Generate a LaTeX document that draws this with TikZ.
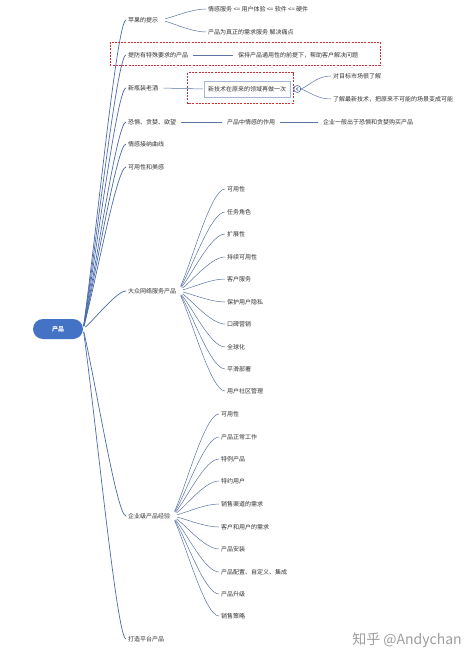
\documentclass[tikz,border=0pt]{standalone}
\usepackage{fontspec}
\setmainfont{Noto Sans CJK SC}
\usetikzlibrary{calc}
\definecolor{rootBlue}{RGB}{68,114,196}
\definecolor{linkBlue}{RGB}{74,106,172}
\definecolor{leafLine}{RGB}{92,116,162}
\definecolor{markRed}{RGB}{204,48,58}
\definecolor{txtGray}{RGB}{51,51,51}
\definecolor{boxLine}{RGB}{168,184,212}

\begin{document}
\begin{tikzpicture}[
    x=1pt, y=-1pt,
    every node/.style={font=\fontsize{6}{7}\selectfont, text=txtGray},
    rootnode/.style={fill=rootBlue, rounded corners=10pt, minimum width=50pt,
                minimum height=20pt, inner sep=0pt,
                font=\fontsize{6}{7}\selectfont\bfseries, text=white},
    topic/.style={anchor=west, inner sep=2pt},
    leaf/.style={anchor=west, inner sep=2pt},
    techbox/.style={draw=boxLine, line width=0.5pt, inner xsep=4pt,
                inner ysep=0pt, minimum height=16pt, fill=white},
    foldmark/.style={circle, draw=linkBlue, line width=0.6pt, fill=white,
                minimum size=7pt, inner sep=0pt},
    mmcurve/.style={to path={.. controls ($(\tikztostart)!0.3!(\tikztotarget)$)
                and ($(\tikztotarget)+(-#1,0)$) .. (\tikztotarget)}},
    mmcurve/.default=8,
    mainlink/.style={draw=linkBlue, line width=0.7pt, mmcurve=9, shorten <=3pt},
    sublink/.style={draw=leafLine, line width=0.5pt, mmcurve=14, shorten <=5pt},
    flatlink/.style={draw=leafLine, line width=0.5pt, shorten <=3pt, shorten >=3pt},
    hlbox/.style={draw=markRed, line width=0.75pt, dash pattern=on 2pt off 1.2pt}
]
  \fill[white] (0,0) rectangle (474,660);
  \useasboundingbox (0,0) rectangle (474,660);

  % --- Root ---
  \node[rootnode] (root) at (58,329) {产品};

  % --- First level topics ---
  \node[topic] (apple)    at (126,20)  {苹果的提示};
  \node[topic] (guard)    at (126,55)  {提防有特殊要求的产品};
  \node[topic] (wine)     at (126,88)  {新瓶装老酒};
  \node[topic] (fear)     at (126,122) {恐惧、贪婪、欲望};
  \node[topic] (accept)   at (126,144) {情感接纳曲线};
  \node[topic] (beauty)   at (126,167) {可用性和美感};
  \node[topic] (mass)     at (126,291) {大众网络服务产品};
  \node[topic] (ent)      at (126,516) {企业级产品经验};
  \node[topic] (platform) at (126,639) {打造平台产品};

  % --- Apple hints ---
  \node[leaf] (appleServe) at (206,9)  {情感服务 <= 用户体验 <= 软件 <= 硬件};
  \node[leaf] (applePain)  at (206,32) {产品为真正的需求服务 解决痛点};

  % --- Special requests, old wine, emotions ---
  \node[leaf] (guardNote) at (236,55) {保持产品通用性的前提下，帮助客户解决问题};
  \node[techbox] (newTech) at (247,89) {新技术在原来的领域再做一次};
  \node[foldmark] (fold) at ($(newTech.east)+(7,0)$) {};
  \draw[linkBlue, line width=0.6pt] ($(fold.center)+(1,-1.6)$) -- ($(fold.center)+(-1,0)$)
        -- ($(fold.center)+(1,1.6)$);
  \node[leaf] (techMarket) at (331,76) {对目标市场很了解};
  \node[leaf] (techNew)    at (331,99) {了解最新技术，把原来不可能的场景变成可能};
  \node[leaf] (emotion)  at (225,122) {产品中情感的作用};
  \node[leaf] (fearNote) at (321,122) {企业一般出于恐惧和贪婪购买产品};

  % --- Mass web service products ---
  \node[leaf] (massUse)       at (225,189) {可用性};
  \node[leaf] (massRole)      at (225,212) {任务角色};
  \node[leaf] (massExt)       at (225,234) {扩展性};
  \node[leaf] (massAvail)     at (225,257) {持续可用性};
  \node[leaf] (massSupport)   at (225,279) {客户服务};
  \node[leaf] (massPrivacy)   at (225,302) {保护用户隐私};
  \node[leaf] (massWord)      at (225,324) {口碑营销};
  \node[leaf] (massGlobal)    at (225,347) {全球化};
  \node[leaf] (massDeploy)    at (225,369) {平滑部署};
  \node[leaf] (massCommunity) at (225,391) {用户社区管理};

  % --- Enterprise products ---
  \node[leaf] (entUse)      at (219,414) {可用性};
  \node[leaf] (entWork)     at (219,437) {产品正常工作};
  \node[leaf] (entSpecial)  at (219,459) {特例产品};
  \node[leaf] (entPartner)  at (219,481) {特约用户};
  \node[leaf] (entChannel)  at (219,504) {销售渠道的需求};
  \node[leaf] (entCustomer) at (219,527) {客户和用户的需求};
  \node[leaf] (entInstall)  at (219,549) {产品安装};
  \node[leaf] (entConfig)   at (219,572) {产品配置、自定义、集成};
  \node[leaf] (entUpgrade)  at (219,594) {产品升级};
  \node[leaf] (entSales)    at (219,616) {销售策略};

  % --- Root links ---
  \foreach \t in {apple,guard,wine,fear,accept,beauty,mass,ent,platform}
    \draw[mainlink] (root.east) to (\t.west);

  % --- Sub links ---
  \draw[sublink] (apple.east) to (appleServe.west);
  \draw[sublink] (apple.east) to (applePain.west);
  \draw[flatlink] (guard.east) -- (guardNote.west);
  \draw[flatlink, shorten >=1pt] (wine.east) -- (newTech.west);
  \draw[sublink, shorten <=0pt] (fold.east) to (techMarket.west);
  \draw[sublink, shorten <=0pt] (fold.east) to (techNew.west);
  \draw[flatlink] (fear.east) -- (emotion.west);
  \draw[flatlink] (emotion.east) -- (fearNote.west);
  \foreach \t in {massUse,massRole,massExt,massAvail,massSupport,
                  massPrivacy,massWord,massGlobal,massDeploy,massCommunity}
    \draw[sublink] (mass.east) to (\t.west);
  \foreach \t in {entUse,entWork,entSpecial,entPartner,entChannel,
                  entCustomer,entInstall,entConfig,entUpgrade,entSales}
    \draw[sublink] (ent.east) to (\t.west);

  % --- Red dashed highlights ---
  \draw[hlbox] (110,42) rectangle (380,65);
  \draw[hlbox] ($(newTech.north west)+(-16,-8)$) rectangle ($(newTech.south east)+(3,6)$);

  % --- Watermark ---
  \node[font=\fontsize{14}{16}\selectfont, text=black!38] (mark) at (407,640) {知乎 @Andychan};
\end{tikzpicture}
\end{document}
